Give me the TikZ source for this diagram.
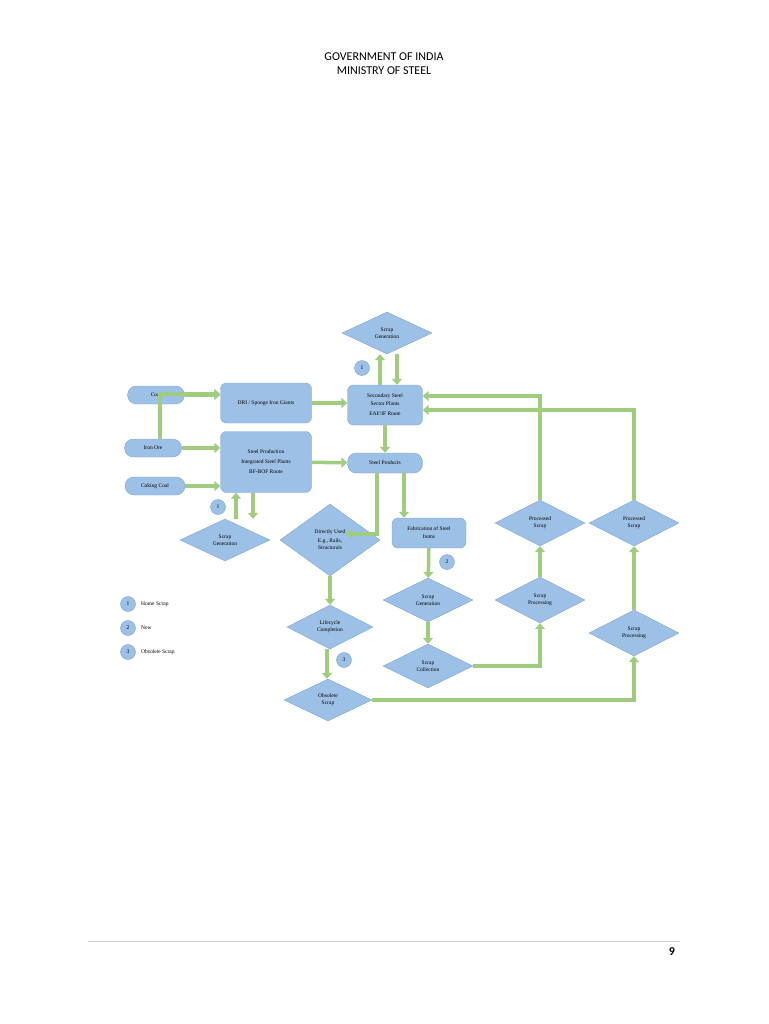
\documentclass[tikz,border=0pt]{standalone}
\usepackage{fontspec}
\setmainfont{Liberation Serif}
\newfontfamily\headfont{Carlito}
\usetikzlibrary{shapes.geometric,arrows.meta}
\definecolor{boxfill}{RGB}{157,192,230}
\definecolor{boxline}{RGB}{125,165,210}
\definecolor{flow}{RGB}{160,205,125}
\begin{document}
\begin{tikzpicture}
  [x=1pt, y=-1pt,
    every box/.style={
      rectangle, rounded corners=6pt, draw=boxline, fill=boxfill,
      align=center, font=\fontsize{5.5}{8}\selectfont, inner sep=1pt
    },
    every pill/.style={
      every box, rounded corners=9pt
    },
    every test/.style={
      diamond, draw=boxline, fill=boxfill, inner sep=0pt,
      align=center, font=\fontsize{5.5}{7}\selectfont
    },
    every mark/.style={
      circle, draw=boxline, fill=boxfill, minimum size=15pt,
      inner sep=0pt, font=\fontsize{5.5}{6}\selectfont
    },
    flow/.style={
      draw=flow, line width=3.5pt,
      -{Triangle[width=10pt,length=6pt]}
    },
  ]
\useasboundingbox (0,0) rectangle (768,1024);
% Heading and footer
\node [font=\headfont\fontsize{12}{14}\selectfont, align=center] (head) at (384,64)
  {GOVERNMENT OF INDIA\\MINISTRY OF STEEL};
\draw [gray!40] (88,941) -- (680,941);
\node [font=\headfont\bfseries\fontsize{12}{14}\selectfont] (page) at (672,952) {9};

% Raw materials
\node [every pill, minimum width=57pt, minimum height=18pt] (coal) at (156,395) {Coal};
\node [every pill, minimum width=57pt, minimum height=18pt] (ore) at (153,448) {Iron Ore};
\node [every pill, minimum width=60pt, minimum height=18pt] (coking) at (155,486) {Coking Coal};

% Plants
\node [every box, minimum width=91pt, minimum height=40pt] (dri) at (266,403) {DRI / Sponge Iron Giants};
\node [every box, minimum width=91pt, minimum height=61pt] (isp) at (266,462)
  {Steel Production\\[2pt]Integrated Steel Plants\\[2pt]BF-BOF Route};
\node [every box, minimum width=75pt, minimum height=40pt] (ssp) at (385,405)
  {Secondary Steel\\Sector Plants\\[2pt]EAF/IF Route};
\node [every pill, minimum width=75pt, minimum height=20pt] (products) at (385,463) {Steel Products};
\node [every box, minimum width=74pt, minimum height=30pt] (fab) at (429,533)
  {Fabrication of Steel\\Items};

% Decisions
\node [every test, minimum width=90pt, minimum height=42pt] (gen-top) at (387,333) {Scrap\\Generation};
\node [every test, minimum width=90pt, minimum height=42pt] (gen-isp) at (225,540) {Scrap\\Generation};
\node [every test, minimum width=100pt, minimum height=72pt] (direct) at (330,540)
  {Directly Used\\[2pt]E.g., Rails,\\Structurals};
\node [every test, minimum width=86pt, minimum height=44pt] (life) at (330,627) {Lifecycle\\Completion};
\node [every test, minimum width=88pt, minimum height=42pt] (obsolete) at (328,700) {Obsolete\\Scrap};
\node [every test, minimum width=90pt, minimum height=44pt] (gen-fab) at (428,600) {Scrap\\Generation};
\node [every test, minimum width=90pt, minimum height=44pt] (collect) at (428,666) {Scrap\\Collection};
\node [every test, minimum width=90pt, minimum height=46pt] (proc-a) at (540,600) {Scrap\\Processing};
\node [every test, minimum width=90pt, minimum height=46pt] (done-a) at (540,523) {Processed\\Scrap};
\node [every test, minimum width=90pt, minimum height=46pt] (proc-b) at (634,633) {Scrap\\Processing};
\node [every test, minimum width=90pt, minimum height=46pt] (done-b) at (634,523) {Processed\\Scrap};

% Scrap type marks
\node [every mark] (m-top) at (362,368) {1};
\node [every mark] (m-isp) at (218,507) {1};
\node [every mark] (m-fab) at (447,562) {2};
\node [every mark] (m-life) at (344,660) {3};

% Legend
\foreach \n/\t [count=\i] in {1/Home Scrap,2/New / Prompt Scrap,3/Obsolete Scrap}
  \node [every mark, label={[font=\fontsize{5.5}{6}\selectfont, xshift=2pt]right:\t}]
    (key-\i) at (128,580+\i*24) {\n};

% Feed flows
\draw [flow] (coal) -- (dri.west |- coal);
\draw [flow] (ore.north -| 160,0) |- ([yshift=9pt]dri.west);
\draw [flow] (ore) -- (isp.west |- ore);
\draw [flow] (coking) -- (isp.west |- coking);
\draw [flow] (dri) -- (ssp.west |- dri);
\draw [flow] (isp) -- (products);
\draw [flow] (ssp) -- (products);

% Home scrap loops
\draw [flow] ([xshift=-7pt]gen-top.south |- ssp.north) -- ([xshift=-7pt]gen-top.south);
\draw [flow] ([xshift=10pt]gen-top.south) -- ([xshift=10pt]gen-top.south |- ssp.north);
\draw [flow] ([xshift=-30pt]isp.south |- gen-isp.north) -- ([xshift=-30pt]isp.south);
\draw [flow] ([xshift=-13pt]isp.south) -- ([xshift=-13pt]isp.south |- gen-isp.north);

% Product flows
\draw [flow] ([xshift=-8pt]products.south) |- ([xshift=16pt,yshift=-30pt]direct.north);
\draw [flow] ([xshift=19pt]products.south) -- ([xshift=19pt]products.south |- fab.north);
\draw [flow] (direct) -- (life);
\draw [flow] (life.south -| 327,0) -- (obsolete.north -| 327,0);
\draw [flow] (fab) -- (gen-fab);
\draw [flow] (gen-fab) -- (collect);

% Return flows
\draw [flow] (collect.east) -| (proc-a.south);
\draw [flow] (proc-a) -- (done-a);
\draw [flow] (done-a.north) |- ([yshift=9pt]ssp.east);
\draw [flow] (obsolete.east) -| (proc-b.south);
\draw [flow] (proc-b) -- (done-b);
\draw [flow] (done-b.north) |- ([yshift=-5pt]ssp.east);
\end{tikzpicture}
\end{document}
